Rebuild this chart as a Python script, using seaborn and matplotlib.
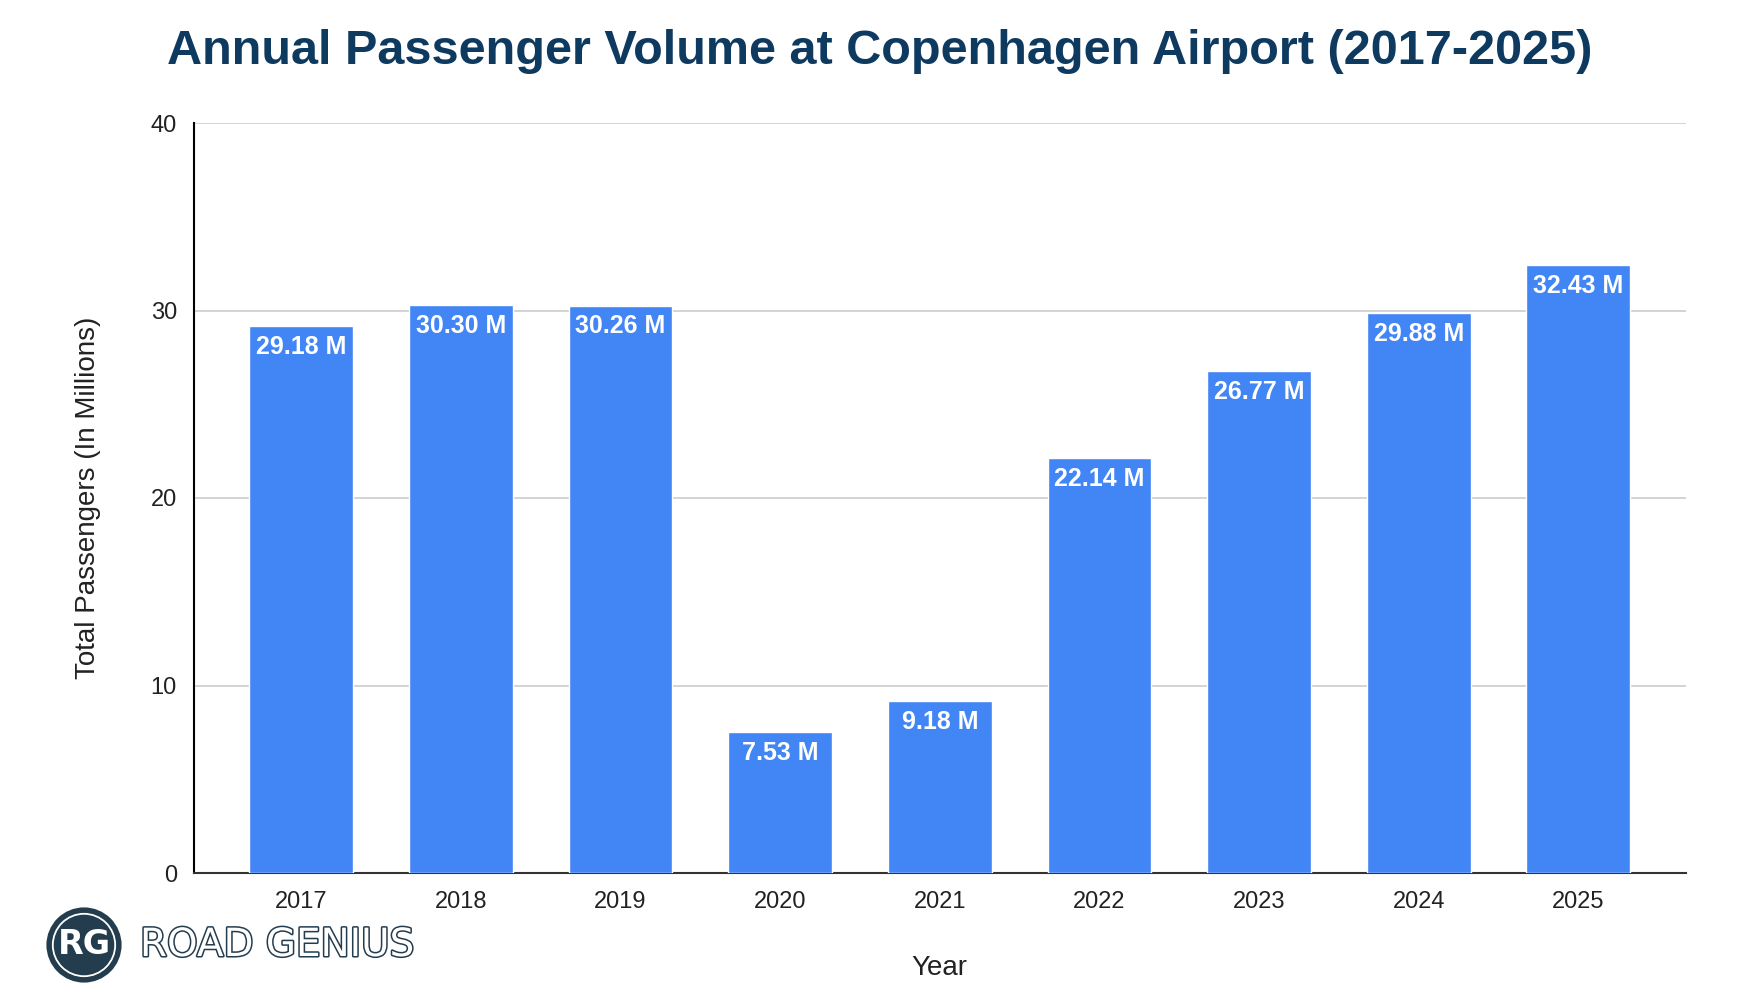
import numpy as np
import pandas as pd
import matplotlib.pyplot as plt
import matplotlib.patheffects as pe
from matplotlib.patches import Circle
import seaborn as sns

# data
years = ['2017', '2018', '2019', '2020', '2021', '2022', '2023', '2024', '2025']
passengers = [29.18, 30.30, 30.26, 7.53, 9.18, 22.14, 26.77, 29.88, 32.43]

df = pd.DataFrame({'Year': years, 'Passengers': passengers})

sns.set_theme(style='white')
plt.rcParams['font.family'] = ['Liberation Sans', 'DejaVu Sans']

fig = plt.figure(figsize=(17.6, 10), dpi=100)
ax = fig.add_axes([0.110, 0.127, 0.848, 0.750])

sns.barplot(data=df, x='Year', y='Passengers', color='#4285F4', saturation=1,
            width=0.65, ax=ax, zorder=3)

ax.set_ylim(0, 40)
ax.set_yticks([0, 10, 20, 30, 40])
ax.set_xlim(-0.675, 8.675)
ax.yaxis.grid(True, color='#cccccc', linewidth=1.2, zorder=0)
ax.set_axisbelow(True)
for s in ['top', 'right']:
    ax.spines[s].set_visible(False)
ax.spines['left'].set_color('#000000')
ax.spines['left'].set_linewidth(1.5)
ax.spines['bottom'].set_color('#333333')
ax.spines['bottom'].set_linewidth(1.5)
ax.tick_params(axis='both', length=0, labelsize=17, colors='#222222')
ax.tick_params(axis='y', pad=12)
ax.tick_params(axis='x', pad=13)

ax.set_xlabel('Year', fontsize=20, color='#222222', labelpad=30)
ax.set_ylabel('Total Passengers (In Millions)', fontsize=20, color='#222222', labelpad=36)

# value labels inside the top of each bar
for i, v in enumerate(passengers):
    ax.annotate(f'{v:.2f} M', (i, v), xytext=(0, -15), textcoords='offset points',
                ha='center', va='center', color='white', fontsize=18,
                fontweight='bold', zorder=5)

fig.text(0.5, 0.949, 'Annual Passenger Volume at Copenhagen Airport (2017-2025)',
         ha='center', va='center', fontsize=35, fontweight='bold', color='#0f3a60')

# logo
lax = fig.add_axes([44 / 1760, 1 - 985 / 1000, 80 / 1760, 80 / 1000])
lax.set_xlim(0, 1)
lax.set_ylim(0, 1)
lax.axis('off')
lax.add_patch(Circle((0.5, 0.5), 0.47, facecolor='#233c4e', edgecolor='none'))
lax.add_patch(Circle((0.5, 0.5), 0.39, facecolor='none', edgecolor='white', linewidth=1.3))
lax.text(0.5, 0.5, 'RG', ha='center', va='center', fontsize=24,
         fontweight='bold', color='white', family=['DejaVu Sans'])
fig.text(140 / 1760, 0.055, 'ROAD GENIUS', ha='left', va='center', fontsize=28,
         color='white', family=['DejaVu Sans'],
         path_effects=[pe.withStroke(linewidth=2.2, foreground='#233c4e')])

plt.savefig('out.png', dpi=100)
